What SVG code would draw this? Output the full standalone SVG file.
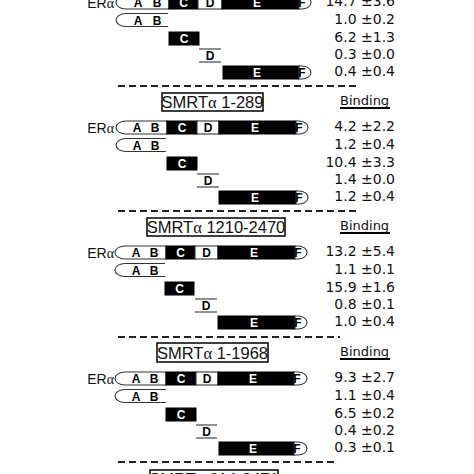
<svg xmlns="http://www.w3.org/2000/svg" width="474" height="474" viewBox="0 0 474 474">
<style>
.bk{fill:#000;stroke:#000;stroke-width:1}
.wh{fill:#fff;stroke:#333;stroke-width:1.1}
.ln{fill:none;stroke:#333;stroke-width:1.1}
.box{fill:#fff;stroke:#000;stroke-width:1.5}
.ul{stroke:#000;stroke-width:2.2}
.sep{stroke:#222;stroke-width:2;stroke-dasharray:7 4}
text{font-family:"Liberation Sans",Arial,sans-serif}
.lw{fill:#fff;font-weight:bold;font-size:12px;text-anchor:middle}
.lb{fill:#000;font-weight:bold;font-size:12px;text-anchor:middle}
.val{font-family:"DejaVu Sans",Verdana,sans-serif;font-size:14px;text-anchor:end;fill:#111}
.bind{font-family:"DejaVu Sans",Verdana,sans-serif;font-size:13px;fill:#111}
.title{font-size:16.5px;text-anchor:middle;fill:#111}
.er{font-size:14px;text-anchor:end;fill:#111}
.gr{font-family:"Liberation Serif","Times New Roman",serif}
</style>

<g id="separators">
<line class="sep" x1="118" y1="86" x2="358" y2="86"/>
<line class="sep" x1="118" y1="211" x2="358" y2="211"/>
<line class="sep" x1="118" y1="337" x2="340" y2="337"/>
<line class="sep" x1="118" y1="462" x2="336" y2="462"/>
</g>

<g id="section1" transform="translate(0,-39)">
<text class="er" x="114" y="46.5">ER<tspan class="gr">α</tspan></text>
<path class="wh" d="M169,35 H126 A10,6.5 0 0 0 126,48 H169 Z"/>
<rect class="bk" x="169" y="35" width="29" height="13"/>
<rect class="wh" x="198" y="35" width="24" height="13"/>
<rect class="bk" x="222" y="35" width="77" height="13"/>
<path class="wh" d="M299,35 H302 A9,6.5 0 0 1 302,48 H299 Z"/>
<text class="lb" x="138" y="46">A</text><text class="lb" x="157" y="46">B</text>
<text class="lw" x="183.5" y="46">C</text><text class="lb" x="210" y="46">D</text>
<text class="lw" x="257" y="46">E</text><text class="lb" x="302" y="46">F</text>
<path class="ln" d="M168,52.5 H126 A10,6.5 0 0 0 126,65.5 H168"/>
<text class="lb" x="138" y="63.5">A</text><text class="lb" x="157" y="63.5">B</text>
<rect class="bk" x="169" y="71" width="30" height="13"/>
<text class="lw" x="184" y="82">C</text>
<line class="ln" x1="199" y1="88" x2="221" y2="88"/><line class="ln" x1="199" y1="101" x2="221" y2="101"/>
<text class="lb" x="210" y="99">D</text>
<rect class="bk" x="223" y="105" width="76" height="13"/>
<path class="wh" d="M299,105 H302 A9,6.5 0 0 1 302,118 H299 Z"/>
<text class="lw" x="257" y="116">E</text><text class="lb" x="302" y="116">F</text>
<text class="val" x="395" y="45">14.7 ±3.6</text>
<text class="val" x="395" y="62.5">1.0 ±0.2</text>
<text class="val" x="395" y="81">6.2 ±1.3</text>
<text class="val" x="395" y="98">0.3 ±0.0</text>
<text class="val" x="395" y="115">0.4 ±0.4</text>
</g>

<g id="section2" transform="translate(0,86)">
<rect class="box" x="162" y="7" width="101" height="18"/>
<text class="title" x="212.5" y="22">SMRT<tspan class="gr">α</tspan> 1-289</text>
<text class="bind" x="340" y="19">Binding</text>
<line class="ul" x1="340" y1="22" x2="390" y2="22"/>
<text class="er" x="114" y="46.5">ER<tspan class="gr">α</tspan></text>
<path class="wh" d="M167,35 H126 A10,6.5 0 0 0 126,48 H167 Z"/>
<rect class="bk" x="167" y="35" width="30" height="13"/>
<rect class="wh" x="197" y="35" width="22" height="13"/>
<rect class="bk" x="219" y="35" width="77" height="13"/>
<path class="wh" d="M296,35 H299 A9,6.5 0 0 1 299,48 H296 Z"/>
<text class="lb" x="137" y="46">A</text><text class="lb" x="155" y="46">B</text>
<text class="lw" x="182" y="46">C</text><text class="lb" x="208" y="46">D</text>
<text class="lw" x="255" y="46">E</text><text class="lb" x="299" y="46">F</text>
<path class="ln" d="M166,52.5 H126 A10,6.5 0 0 0 126,65.5 H166"/>
<text class="lb" x="137" y="63.5">A</text><text class="lb" x="155" y="63.5">B</text>
<rect class="bk" x="167" y="71" width="30" height="13"/>
<text class="lw" x="182" y="82">C</text>
<line class="ln" x1="197" y1="88" x2="219" y2="88"/><line class="ln" x1="197" y1="101" x2="219" y2="101"/>
<text class="lb" x="208" y="99">D</text>
<rect class="bk" x="219" y="105" width="77" height="13"/>
<path class="wh" d="M296,105 H299 A9,6.5 0 0 1 299,118 H296 Z"/>
<text class="lw" x="255" y="116">E</text><text class="lb" x="299" y="116">F</text>
<text class="val" x="395" y="45">4.2 ±2.2</text>
<text class="val" x="395" y="62.5">1.2 ±0.4</text>
<text class="val" x="395" y="81">10.4 ±3.3</text>
<text class="val" x="395" y="98">1.4 ±0.0</text>
<text class="val" x="395" y="115">1.2 ±0.4</text>
</g>

<g id="section3" transform="translate(0,211)">
<rect class="box" x="147" y="7" width="138" height="18"/>
<text class="title" x="216" y="22">SMRT<tspan class="gr">α</tspan> 1210-2470</text>
<text class="bind" x="340" y="19">Binding</text>
<line class="ul" x1="340" y1="22" x2="390" y2="22"/>
<text class="er" x="114" y="46.5">ER<tspan class="gr">α</tspan></text>
<path class="wh" d="M166,35 H125 A10,6.5 0 0 0 125,48 H166 Z"/>
<rect class="bk" x="166" y="35" width="29" height="13"/>
<rect class="wh" x="195" y="35" width="23" height="13"/>
<rect class="bk" x="218" y="35" width="77" height="13"/>
<path class="wh" d="M295,35 H298 A9,6.5 0 0 1 298,48 H295 Z"/>
<text class="lb" x="136" y="46">A</text><text class="lb" x="154" y="46">B</text>
<text class="lw" x="180.5" y="46">C</text><text class="lb" x="206.5" y="46">D</text>
<text class="lw" x="254" y="46">E</text><text class="lb" x="298" y="46">F</text>
<path class="ln" d="M165,52.5 H125 A10,6.5 0 0 0 125,65.5 H165"/>
<text class="lb" x="136" y="63.5">A</text><text class="lb" x="154" y="63.5">B</text>
<rect class="bk" x="165" y="71" width="29" height="13"/>
<text class="lw" x="179.5" y="82">C</text>
<line class="ln" x1="195" y1="88" x2="217" y2="88"/><line class="ln" x1="195" y1="101" x2="217" y2="101"/>
<text class="lb" x="206" y="99">D</text>
<rect class="bk" x="218" y="105" width="77" height="13"/>
<path class="wh" d="M295,105 H298 A9,6.5 0 0 1 298,118 H295 Z"/>
<text class="lw" x="254" y="116">E</text><text class="lb" x="298" y="116">F</text>
<text class="val" x="395" y="45">13.2 ±5.4</text>
<text class="val" x="395" y="62.5">1.1 ±0.1</text>
<text class="val" x="395" y="81">15.9 ±1.6</text>
<text class="val" x="395" y="98">0.8 ±0.1</text>
<text class="val" x="395" y="115">1.0 ±0.4</text>
</g>

<g id="section4" transform="translate(0,337)">
<rect class="box" x="157" y="6" width="111" height="19"/>
<text class="title" x="212.5" y="21.5">SMRT<tspan class="gr">α</tspan> 1-1968</text>
<text class="bind" x="340" y="19">Binding</text>
<line class="ul" x1="340" y1="22" x2="390" y2="22"/>
<text class="er" x="114" y="46.5">ER<tspan class="gr">α</tspan></text>
<path class="wh" d="M166,35 H125 A10,6.5 0 0 0 125,48 H166 Z"/>
<rect class="bk" x="166" y="35" width="30" height="13"/>
<rect class="wh" x="196" y="35" width="22" height="13"/>
<rect class="bk" x="218" y="35" width="76" height="13"/>
<path class="wh" d="M294,35 H298 A9,6.5 0 0 1 298,48 H294 Z"/>
<text class="lb" x="136" y="46">A</text><text class="lb" x="154" y="46">B</text>
<text class="lw" x="181" y="46">C</text><text class="lb" x="207" y="46">D</text>
<text class="lw" x="253" y="46">E</text><text class="lb" x="297" y="46">F</text>
<path class="ln" d="M166,52.5 H125 A10,6.5 0 0 0 125,65.5 H166"/>
<text class="lb" x="136" y="63.5">A</text><text class="lb" x="154" y="63.5">B</text>
<rect class="bk" x="166" y="71" width="30" height="13"/>
<text class="lw" x="181" y="82">C</text>
<line class="ln" x1="196" y1="88" x2="217" y2="88"/><line class="ln" x1="196" y1="101" x2="217" y2="101"/>
<text class="lb" x="206.5" y="99">D</text>
<rect class="bk" x="219" y="105" width="75" height="13"/>
<path class="wh" d="M294,105 H298 A9,6.5 0 0 1 298,118 H294 Z"/>
<text class="lw" x="253" y="116">E</text><text class="lb" x="297" y="116">F</text>
<text class="val" x="395" y="45">9.3 ±2.7</text>
<text class="val" x="395" y="62.5">1.1 ±0.4</text>
<text class="val" x="395" y="81">6.5 ±0.2</text>
<text class="val" x="395" y="98">0.4 ±0.2</text>
<text class="val" x="395" y="115">0.3 ±0.1</text>
</g>

<g id="section5" transform="translate(0,462)">
<rect class="box" x="150" y="8" width="128" height="18"/>
<text class="title" x="214" y="23">SMRT<tspan class="gr">α</tspan> 614-2471</text>
</g>
</svg>
